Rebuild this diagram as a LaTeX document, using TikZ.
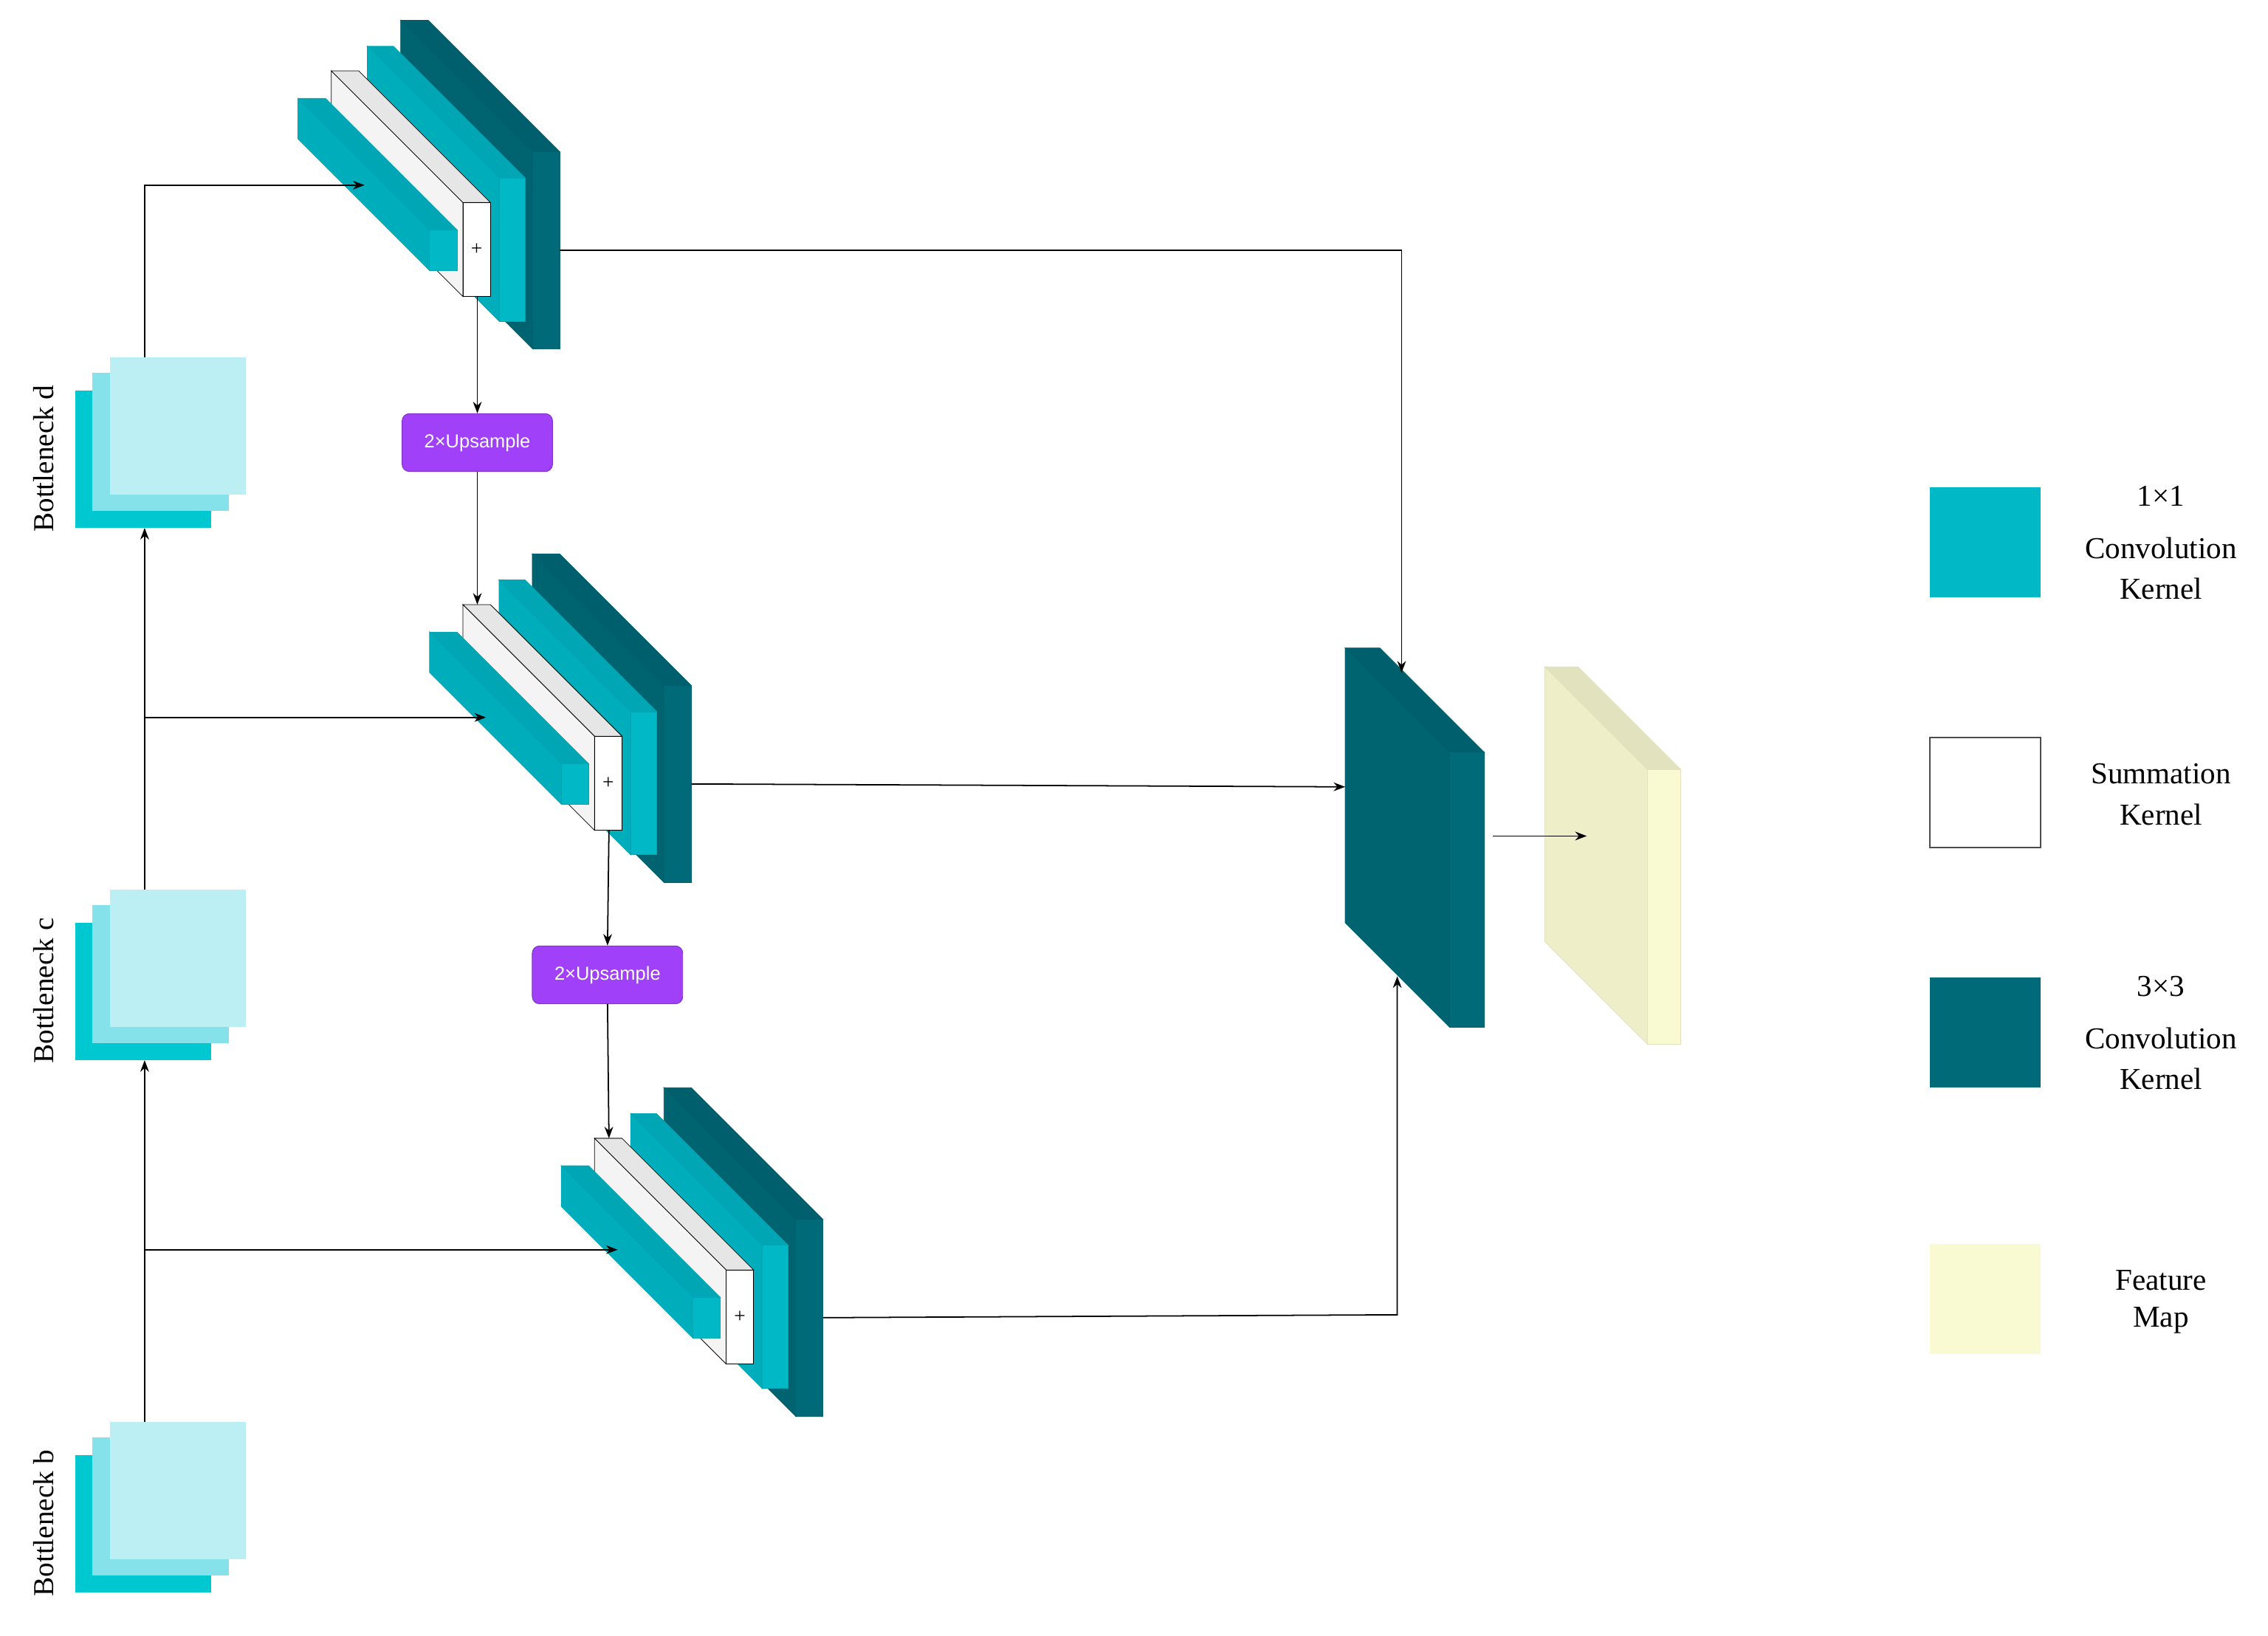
\documentclass[tikz,border=0pt]{standalone}
\usepackage{fontspec}
\setmainfont{Liberation Serif}
\newfontfamily\ups{Liberation Sans}
\usetikzlibrary{arrows.meta}
\definecolor{dk}{HTML}{006A78}\definecolor{dks}{HTML}{005F6C}\definecolor{dkt}{HTML}{006470}
\definecolor{cy}{HTML}{00B8C6}\definecolor{cys}{HTML}{00A6B3}\definecolor{cyt}{HTML}{00AEBB}
\definecolor{wsd}{HTML}{E6E6E6}\definecolor{wtp}{HTML}{F4F4F4}
\definecolor{b1}{HTML}{00C8D0}\definecolor{b2}{HTML}{86E2EA}\definecolor{b3}{HTML}{BBEFF3}
\definecolor{fm}{HTML}{FAFAD2}\definecolor{fms}{HTML}{E2E2BE}\definecolor{fmt}{HTML}{EEEEC8}
\definecolor{pu}{HTML}{A040F8}
\newcommand\cuboid[9]{% fx fy w h d front side top edge
  \fill[#7,draw=#9,line width=0.4pt] (#1-#5,#2-#5)--(#1-#5+#3,#2-#5)--(#1+#3,#2)--(#1,#2)--cycle;
  \fill[#7!0,#8,draw=#9,line width=0.4pt] (#1-#5,#2-#5)--(#1,#2)--(#1,#2+#4)--(#1-#5,#2+#4-#5)--cycle;
  \fill[#6,draw=#9,line width=0.4pt] (#1,#2) rectangle (#1+#3,#2+#4);}
\tikzset{
  arr/.style={line width=0.9pt,-{Stealth[length=8pt,width=6pt]}},
  ln/.style={line width=0.9pt},
  ups/.style={rounded corners=5pt,fill=pu,draw=pu!80!black,line width=0.5pt,minimum width=104pt,minimum height=40pt,text=white,font=\ups\fontsize{13}{15}\selectfont},
  bl/.style={rotate=90,font=\fontsize{20}{24}\selectfont},
  lg/.style={font=\fontsize{21}{25}\selectfont}
}
\begin{document}
\begin{tikzpicture}[x=1pt,y=-1pt]
\useasboundingbox (0,0) rectangle (1568,1131);
% bottlenecks
\foreach \n/\dy/\t in {d/0/d,c/368/c,b/736/b}{
  \begin{scope}[shift={(0,\dy)}]
  \fill[b1] (52,270) rectangle (146,365);
  \fill[b2] (64,258) rectangle (158,353);
  \fill[b3] (76,247) rectangle (170,342);
  \coordinate (bt\n) at (100,247);
  \coordinate (bb\n) at (100,365);
  \node[bl] (lab\n) at (30,317) {Bottleneck \t};
  \end{scope}}
% conv blocks
\foreach \i/\dx/\dy in {1/0/0,2/91/369,3/182/738}{
  \begin{scope}[shift={(\dx,\dy)}]
  \cuboid{368}{105}{19}{136}{91}{dk}{dks}{dkt}{dks}
  \cuboid{345}{123}{18}{99}{91}{cy}{cys}{cyt}{cys}
  \cuboid{320}{140}{19}{65}{91}{white}{wsd}{wtp}{black}
  \cuboid{297}{159}{19}{28}{91}{cy}{cys}{cyt}{cys}
  \node[font=\fontsize{14}{16}\selectfont] (plus\i) at (329.5,172.5) {+};
  \coordinate (in\i) at (252,128);
  \coordinate (wt\i) at (239,127);
  \coordinate (wb\i) at (330,205);
  \coordinate (out\i) at (387,173);
  \end{scope}}
\node[ups] (u1) at (330,306) {2×Upsample};
\node[ups] (u2) at (420,674) {2×Upsample};
% big block and feature map
\cuboid{1002}{520}{24}{190}{72}{dk}{dks}{dkt}{dks}
\coordinate (big) at (966,580);
\cuboid{1139}{532}{23}{190}{71}{fm}{fms}{fmt}{fms}
\coordinate (fmc) at (1097,578);
\coordinate (bigr) at (1032,578);
% connectors
\draw[arr] (btb) -- (bbc);
\draw[arr] (btc) -- (bbd);
\draw[arr] (btd) |- (in1);
\draw[arr] (100,496) -- (336,496);
\draw[arr] (100,864) -- (427,864);
\draw[arr] (wb1) -- (u1.north);
\draw[arr] (u1.south) -- (330,418);
\draw[arr] (wb2) -- (u2.north);
\draw[arr] (u2.south) -- (421,787);
\draw[arr] (out1) -| (969,465);
\draw[arr] (out2) -- (930,544);
\draw[arr] (out3) -- (966,909) -- (966,675);
\draw[arr] (bigr) -- (fmc);
% legend
\fill[cy] (1334,337) rectangle (1411,413);
\draw[line width=1pt,black!70] (1334,510) rectangle (1411,586);
\fill[dk] (1334,676) rectangle (1411,752);
\fill[fm] (1334,860) rectangle (1411,936);
\node[lg] (l1a) at (1494,343) {1×1};
\node[lg] (l1b) at (1494,379) {Convolution};
\node[lg] (l1c) at (1494,407) {Kernel};
\node[lg] (l2a) at (1494,535) {Summation};
\node[lg] (l2b) at (1494,563) {Kernel};
\node[lg] (l3a) at (1494,682) {3×3};
\node[lg] (l3b) at (1494,718) {Convolution};
\node[lg] (l3c) at (1494,746) {Kernel};
\node[lg] (l4a) at (1494,885) {Feature};
\node[lg] (l4b) at (1494,913) {Map};
\end{tikzpicture}
\end{document}
